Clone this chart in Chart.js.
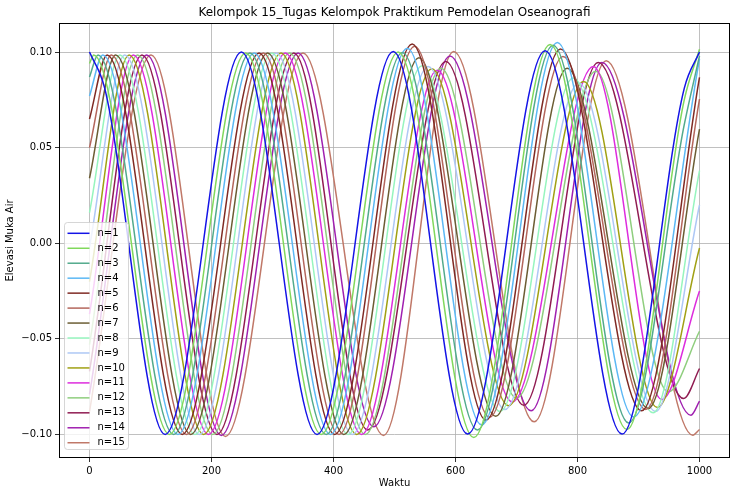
<!DOCTYPE html>
<html>
<head>
<meta charset="utf-8">
<title>Elevasi Muka Air</title>
<script src="https://cdn.jsdelivr.net/npm/chart.js@4/dist/chart.umd.min.js"></script>
<style>
  html, body { margin: 0; padding: 0; background: #fff; }
  #wrap { width: 735px; height: 496px; }
</style>
</head>
<body>
<div id="wrap"><canvas id="chart" width="735" height="496"></canvas></div>
<script>
// nilai: titik awal, puncak/lembah, titik akhir tiap seri
const seriesNames = ["n=1", "n=2", "n=3", "n=4", "n=5", "n=6", "n=7", "n=8",
                     "n=9", "n=10", "n=11", "n=12", "n=13", "n=14", "n=15"];

const waktu_n1 = [0, 25, 124, 249, 373, 498, 620, 747, 873, 975, 1000];
const elevasi_n1 = [0.1, 0.081, -0.1, 0.1, -0.1, 0.1003, -0.0998, 0.1007, -0.0998, 0.081, 0.1];
const waktu_n2 = [0, 7, 131, 256, 380, 506, 630, 755, 881, 975, 1000];
const elevasi_n2 = [0.094, 0.0985, -0.1, 0.0995, -0.1, 0.1, -0.1016, 0.104, -0.0974, 0.075, 0.1015];
const waktu_n3 = [0, 14, 138, 263, 388, 513, 636, 760, 884, 975, 1000];
const elevasi_n3 = [0.087, 0.0985, -0.1, 0.0995, -0.1, 0.0998, -0.0977, 0.1035, -0.094, 0.062, 0.098];
const waktu_n4 = [0, 22, 145, 270, 395, 521, 643, 767, 892, 1000];
const elevasi_n4 = [0.077, 0.0985, -0.1, 0.0995, -0.1, 0.102, -0.095, 0.105, -0.0908, 0.0963];
const waktu_n5 = [0, 29, 152, 278, 402, 529, 650, 772, 905, 1000];
const elevasi_n5 = [0.065, 0.0985, -0.1, 0.0995, -0.1, 0.1042, -0.0925, 0.1016, -0.0876, 0.0867];
const waktu_n6 = [0, 36, 159, 285, 409, 533, 656, 776, 912, 1000];
const elevasi_n6 = [0.05, 0.0985, -0.1, 0.0995, -0.1, 0.103, -0.091, 0.0977, -0.087, 0.0754];
const waktu_n7 = [0, 43, 166, 292, 417, 540, 666, 783, 916, 1000];
const elevasi_n7 = [0.034, 0.0985, -0.1, 0.0995, -0.1, 0.097, -0.0905, 0.0916, -0.0864, 0.0597];
const waktu_n8 = [0, 50, 173, 299, 424, 545, 673, 793, 924, 1000];
const elevasi_n8 = [0.016, 0.0985, -0.1, 0.0995, -0.1, 0.0928, -0.088, 0.0864, -0.0887, 0.038];
const waktu_n9 = [0, 58, 180, 306, 431, 555, 681, 802, 928, 1000];
const elevasi_n9 = [-0.002, 0.0985, -0.1, 0.0995, -0.1, 0.0925, -0.087, 0.0838, -0.088, 0.02];
const waktu_n10 = [0, 65, 187, 314, 438, 561, 687, 810, 931, 1000];
const elevasi_n10 = [-0.02, 0.0985, -0.1, 0.0995, -0.1, 0.0913, -0.085, 0.0846, -0.0859, -0.0025];
const waktu_n11 = [0, 72, 195, 321, 446, 570, 693, 826, 938, 1000];
const elevasi_n11 = [-0.037, 0.0985, -0.1, 0.0995, -0.1, 0.0905, -0.083, 0.0925, -0.0817, -0.025];
const waktu_n12 = [0, 79, 202, 328, 452, 576, 700, 830, 949, 1000];
const elevasi_n12 = [-0.053, 0.0985, -0.1, 0.0995, -0.1, 0.0915, -0.081, 0.09, -0.0777, -0.046];
const waktu_n13 = [0, 86, 209, 335, 456, 584, 712, 834, 974, 1000];
const elevasi_n13 = [-0.067, 0.0985, -0.1, 0.0995, -0.0977, 0.095, -0.0847, 0.0946, -0.0812, -0.0655];
const waktu_n14 = [0, 94, 216, 342, 466, 591, 724, 840, 986, 1000];
const elevasi_n14 = [-0.079, 0.0985, -0.1005, 0.0995, -0.096, 0.098, -0.0876, 0.0946, -0.0899, -0.0826];
const waktu_n15 = [0, 101, 223, 350, 482, 597, 729, 847, 989, 1000];
const elevasi_n15 = [-0.088, 0.0985, -0.101, 0.0995, -0.1005, 0.1003, -0.0934, 0.0955, -0.1004, -0.0974];

const xTicks = [0, 200, 400, 600, 800, 1000];
const yTicks = [-0.1, -0.05, 0, 0.05, 0.1];

const waktuList = [waktu_n1, waktu_n2, waktu_n3, waktu_n4, waktu_n5, waktu_n6, waktu_n7, waktu_n8,
                   waktu_n9, waktu_n10, waktu_n11, waktu_n12, waktu_n13, waktu_n14, waktu_n15];
const elevasiList = [elevasi_n1, elevasi_n2, elevasi_n3, elevasi_n4, elevasi_n5, elevasi_n6, elevasi_n7, elevasi_n8,
                     elevasi_n9, elevasi_n10, elevasi_n11, elevasi_n12, elevasi_n13, elevasi_n14, elevasi_n15];

const lineColors = ["#1414e6", "#80d85c", "#52aa8c", "#5cb8f5", "#7f2a24", "#b4665c", "#6b5d33", "#96f5be",
                    "#aec8f5", "#a0a014", "#dd2cdd", "#8fce7e", "#901c52", "#a020b0", "#c07868"];

const FONT = "DejaVu Sans";

const datasets = seriesNames.map((name, i) => ({
    label: name,
    data: waktuList[i].map((t, j) => ({ x: t, y: elevasiList[i][j] })),
    borderColor: lineColors[i],
    borderWidth: 1.5,
    pointRadius: 0,
    fill: false,
    cubicInterpolationMode: "monotone"
}));

// judul di atas area plot
const titlePlugin = {
    id: "judul",
    afterDraw(chart) {
        const { ctx, chartArea } = chart;
        ctx.save();
        ctx.font = "12px '" + FONT + "'";
        ctx.fillStyle = "#000";
        ctx.textAlign = "center";
        ctx.textBaseline = "middle";
        ctx.fillText("Kelompok 15_Tugas Kelompok Praktikum Pemodelan Oseanografi",
            (chartArea.left + chartArea.right) / 2, 13);
        ctx.restore();
    }
};

// bingkai + legenda di dalam area plot
const frameLegendPlugin = {
    id: "bingkaiLegenda",
    afterDatasetsDraw(chart) {
        const { ctx, chartArea } = chart;
        ctx.save();
        ctx.strokeStyle = "#000";
        ctx.lineWidth = 1;
        ctx.strokeRect(Math.round(chartArea.left) + 0.5, Math.round(chartArea.top) + 0.5,
            Math.round(chartArea.right - chartArea.left) - 1, Math.round(chartArea.bottom - chartArea.top) - 1);

        const bx = 64.5, by = 222.5, bw = 64, bh = 227;
        ctx.beginPath();
        ctx.roundRect(bx, by, bw, bh, 3);
        ctx.fillStyle = "rgba(255,255,255,0.8)";
        ctx.fill();
        ctx.strokeStyle = "rgba(204,204,204,0.8)";
        ctx.stroke();

        ctx.font = "10px '" + FONT + "'";
        ctx.textBaseline = "middle";
        ctx.textAlign = "left";
        seriesNames.forEach((name, i) => {
            const y = 233.3 + i * 14.96;
            ctx.beginPath();
            ctx.moveTo(67.5, y);
            ctx.lineTo(89.5, y);
            ctx.strokeStyle = lineColors[i];
            ctx.lineWidth = 1.5;
            ctx.stroke();
            ctx.fillStyle = "#000";
            ctx.fillText(name, 97.5, y);
        });
        ctx.restore();
    }
};

new Chart(document.getElementById("chart"), {
    type: "line",
    data: { datasets },
    options: {
        responsive: false,
        animation: false,
        devicePixelRatio: 1,
        layout: { padding: { top: 23, right: 5, left: 0, bottom: 0 } },
        plugins: {
            legend: { display: false },
            tooltip: { enabled: false },
            title: { display: false }
        },
        scales: {
            x: {
                type: "linear",
                min: -50,
                max: 1050,
                afterBuildTicks: scale => { scale.ticks = xTicks.map(v => ({ value: v })); },
                afterFit: scale => { scale.height = 38; },
                ticks: {
                    font: { family: FONT, size: 10 },
                    color: "#000",
                    padding: 3,
                    maxRotation: 0,
                    callback: v => String(v)
                },
                grid: { color: "#b0b0b0", lineWidth: 0.8, tickColor: "#000", tickLength: 4 },
                border: { display: false },
                title: {
                    display: true,
                    text: "Waktu",
                    font: { family: FONT, size: 10 },
                    color: "#000",
                    padding: { top: 0, bottom: 7 }
                }
            },
            y: {
                type: "linear",
                min: -0.1123,
                max: 0.1152,
                afterBuildTicks: scale => { scale.ticks = yTicks.map(v => ({ value: v })); },
                afterFit: scale => { scale.width = 59; },
                ticks: {
                    font: { family: FONT, size: 10 },
                    color: "#000",
                    padding: 3,
                    callback: v => (v < 0 ? "\u2212" : "") + Math.abs(v).toFixed(2)
                },
                grid: { color: "#b0b0b0", lineWidth: 0.8, tickColor: "#000", tickLength: 4 },
                border: { display: false },
                title: {
                    display: true,
                    text: "Elevasi Muka Air",
                    font: { family: FONT, size: 10 },
                    color: "#000",
                    padding: { top: 4, bottom: 0 }
                }
            }
        }
    },
    plugins: [titlePlugin, frameLegendPlugin]
});
</script>
</body>
</html>
